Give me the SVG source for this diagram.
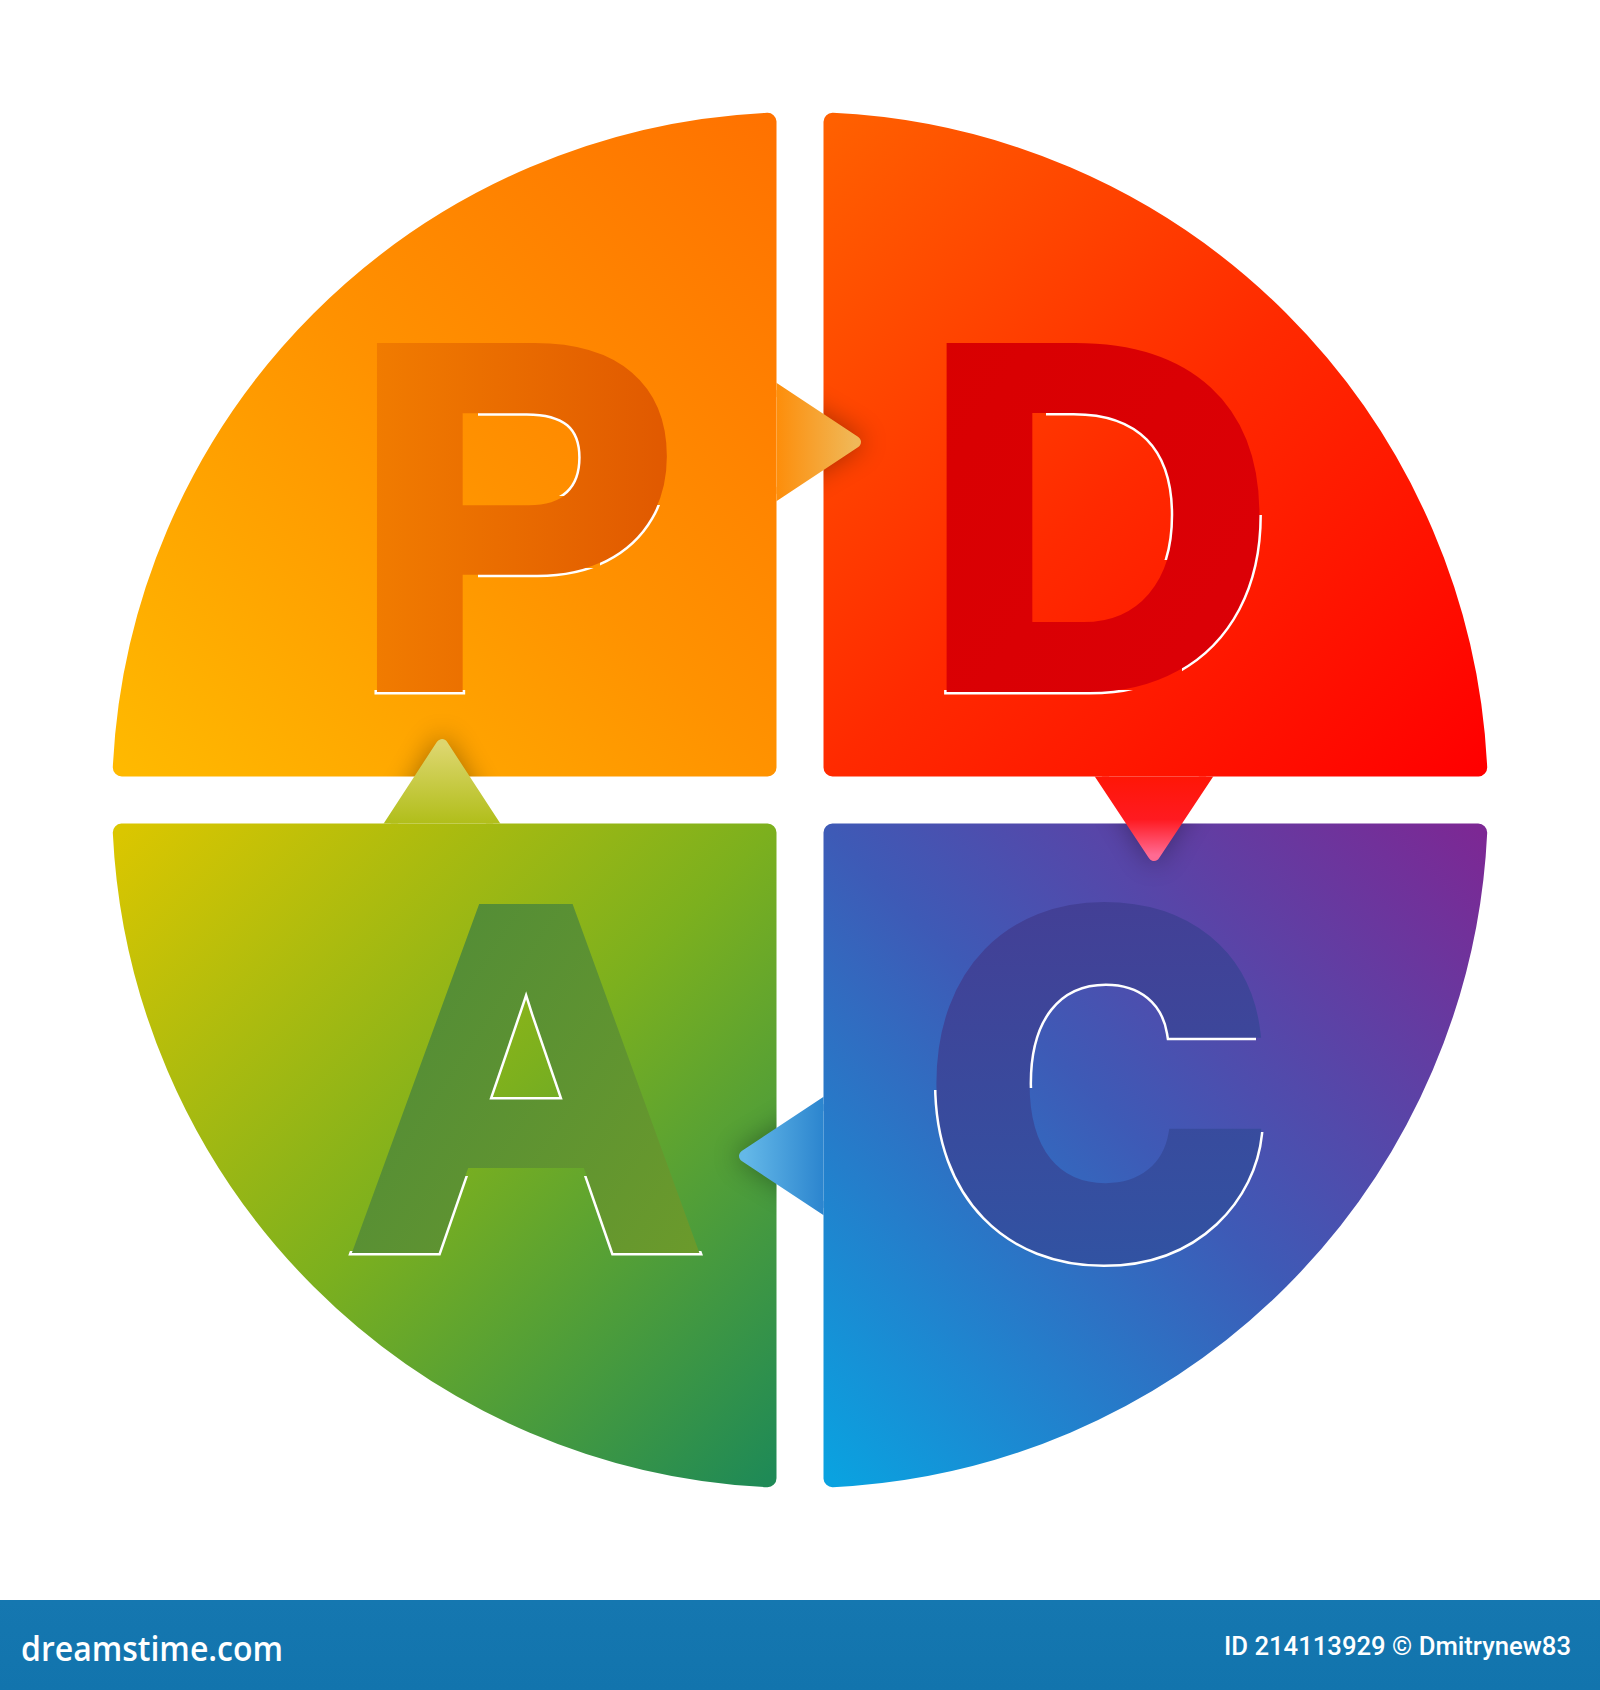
<svg xmlns="http://www.w3.org/2000/svg" width="1600" height="1690" viewBox="0 0 1600 1690">
<style>
.q{stroke-width:18;stroke-linejoin:round}
.let{font-family:"Liberation Sans",Arial,sans-serif;font-weight:700;font-size:484px;text-anchor:middle;stroke-width:16;stroke-linejoin:miter;paint-order:stroke}
.hl{font-family:"Liberation Sans",Arial,sans-serif;font-weight:700;font-size:484px;text-anchor:middle;fill:none;stroke:#fff;stroke-width:21;stroke-linejoin:miter}
.cf{font-family:Inter,"Liberation Sans",sans-serif;font-weight:800;font-size:472px;stroke-width:10}
.hl.cf{stroke-width:15}
.tab{stroke-width:12;stroke-linejoin:round}
.sh{fill:#000;opacity:.38;filter:url(#blur)}
</style>
<defs>
<linearGradient id="gTL" x1="0" y1="1" x2="1" y2="0"><stop offset="0" stop-color="#ffb900"/><stop offset=".5" stop-color="#ff9200"/><stop offset="1" stop-color="#ff7200"/></linearGradient>
<linearGradient id="gTR" x1="0" y1="0" x2="1" y2="1"><stop offset="0" stop-color="#ff6000"/><stop offset=".5" stop-color="#ff2a00"/><stop offset="1" stop-color="#ff0000"/></linearGradient>
<linearGradient id="gBR" x1="0" y1="1" x2="1" y2="0"><stop offset="0" stop-color="#0aa2e0"/><stop offset=".5" stop-color="#3e5ab6"/><stop offset="1" stop-color="#7c2894"/></linearGradient>
<linearGradient id="gBL" x1="0" y1="0" x2="1" y2="1"><stop offset="0" stop-color="#dac600"/><stop offset=".5" stop-color="#7cb01e"/><stop offset="1" stop-color="#1f8a56"/></linearGradient>
<linearGradient id="lP" x1="0" y1="0" x2="1" y2="0"><stop offset="0" stop-color="#f27e00"/><stop offset="1" stop-color="#e05800"/></linearGradient>
<linearGradient id="lD" x1="0" y1="0" x2="1" y2="1"><stop offset="0" stop-color="#d80000"/><stop offset="1" stop-color="#dc0008"/></linearGradient>
<linearGradient id="lA" x1="0" y1="0" x2="1" y2="1"><stop offset="0" stop-color="#4b883a"/><stop offset="1" stop-color="#6e9c2a"/></linearGradient>
<linearGradient id="lC" x1="0" y1="0" x2="0" y2="1"><stop offset="0" stop-color="#483a92"/><stop offset="1" stop-color="#2c58a6"/></linearGradient>
<linearGradient id="tTL" x1="0" y1="0" x2="1" y2="0"><stop offset="0" stop-color="#ff8800"/><stop offset="1" stop-color="#f0b858"/></linearGradient>
<linearGradient id="tTR" x1="0" y1="0" x2="0" y2="1"><stop offset="0" stop-color="#ff1500"/><stop offset=".6" stop-color="#ff1a20"/><stop offset="1" stop-color="#ff6a92"/></linearGradient>
<linearGradient id="tBR" x1="1" y1="0" x2="0" y2="0"><stop offset="0" stop-color="#247ecb"/><stop offset="1" stop-color="#64b8e8"/></linearGradient>
<linearGradient id="tBL" x1="0" y1="1" x2="0" y2="0"><stop offset="0" stop-color="#abbb0f"/><stop offset="1" stop-color="#ddd66e"/></linearGradient>
<linearGradient id="bar" x1="0" y1="0" x2="0" y2="1"><stop offset="0" stop-color="#1577b0"/><stop offset="1" stop-color="#1274ad"/></linearGradient>
<filter id="blur" x="-50%" y="-50%" width="200%" height="200%"><feGaussianBlur stdDeviation="14"/></filter>
<clipPath id="cTL"><rect x="0" y="0" width="776.5" height="776.5"/></clipPath>
<clipPath id="cTR"><rect x="823.5" y="0" width="776.5" height="776.5"/></clipPath>
<clipPath id="cBR"><rect x="823.5" y="823.5" width="776.5" height="776.5"/></clipPath>
<clipPath id="cBL"><rect x="0" y="823.5" width="776.5" height="776.5"/></clipPath>
<clipPath id="kPD"><rect x="776.5" y="300" width="150" height="300"/></clipPath>
<clipPath id="kDC"><rect x="1000" y="776.5" width="300" height="150"/></clipPath>
<clipPath id="kCA"><rect x="673.5" y="1000" width="150" height="300"/></clipPath>
<clipPath id="kAP"><rect x="300" y="673.5" width="300" height="150"/></clipPath>
<mask id="mP" maskUnits="userSpaceOnUse" x="0" y="0" width="1600" height="1690">
<rect x="360" y="690" width="112" height="16" fill="#fff"/>
<rect x="478" y="400" width="122" height="96" fill="#fff"/>
<rect x="478" y="568" width="225" height="34" fill="#fff"/>
<rect x="600" y="505" width="103" height="97" fill="#fff"/>
</mask>
<mask id="mD" maskUnits="userSpaceOnUse" x="0" y="0" width="1600" height="1690">
<rect x="1046" y="405" width="152" height="155" fill="#fff"/>
<rect x="928" y="690" width="362" height="16" fill="#fff"/>
<rect x="1182" y="515" width="108" height="191" fill="#fff"/>
</mask>
<mask id="mA" maskUnits="userSpaceOnUse" x="0" y="0" width="1600" height="1690">
<rect x="334" y="1251" width="386" height="16" fill="#fff"/>
<rect x="392" y="1176" width="268" height="78" fill="#fff"/>
<rect x="474" y="985" width="102" height="145" fill="#fff"/>
</mask>
<mask id="mC" maskUnits="userSpaceOnUse" x="0" y="0" width="1600" height="1690">
<rect x="905" y="1090" width="371" height="195" fill="#fff"/>
<ellipse cx="1095" cy="1085" rx="88" ry="116" fill="#000"/>
<rect x="1140" y="1085" width="150" height="47" fill="#000"/>
<rect x="1000" y="955" width="178" height="133" fill="#fff"/>
<rect x="1160" y="1018" width="96" height="32" fill="#fff"/>
</mask>
</defs>

<rect width="1600" height="1690" fill="#fff"/>

<g id="nodes">
<g id="node-plan">
<path class="q" fill="url(#gTL)" stroke="url(#gTL)" d="M121.8 767.5 A679 679 0 0 1 767.5 121.8 L767.5 767.5 Z"/>
<text class="hl" x="514" y="684" mask="url(#mP)">P</text>
<text class="let" x="514" y="684" fill="url(#lP)" stroke="url(#lP)">P</text>
</g>
<g id="node-do">
<path class="q" fill="url(#gTR)" stroke="url(#gTR)" d="M832.5 121.8 A679 679 0 0 1 1478.2 767.5 L832.5 767.5 Z"/>
<text class="hl" x="1097" y="684" mask="url(#mD)">D</text>
<text class="let" x="1097" y="684" fill="url(#lD)" stroke="url(#lD)">D</text>
</g>
<g id="node-check">
<path class="q" fill="url(#gBR)" stroke="url(#gBR)" d="M1478.2 832.5 A679 679 0 0 1 832.5 1478.2 L832.5 832.5 Z"/>
<text class="hl cf" x="1098" y="1255" mask="url(#mC)">C</text>
<text class="let cf" x="1098" y="1255" fill="url(#lC)" stroke="url(#lC)">C</text>
</g>
<g id="node-act">
<path class="q" fill="url(#gBL)" stroke="url(#gBL)" d="M767.5 1478.2 A679 679 0 0 1 121.8 832.5 L767.5 832.5 Z"/>
<text class="hl" x="526" y="1245" mask="url(#mA)">A</text>
<text class="let" x="526" y="1245" fill="url(#lA)" stroke="url(#lA)">A</text>
</g>
</g>

<g id="connectors">
<g clip-path="url(#cTR)"><path class="sh" d="M770 385 L866 442 L770 499 Z"/></g>
<g clip-path="url(#cBR)"><path class="sh" d="M1097 770 L1154 866 L1211 770 Z"/></g>
<g clip-path="url(#cBL)"><path class="sh" d="M830 1099 L734 1156 L830 1213 Z"/></g>
<g clip-path="url(#cTL)"><path class="sh" d="M386 830 L442 734 L498 830 Z"/></g>
<g clip-path="url(#kPD)"><path id="edge-p-d" class="tab" fill="url(#tTL)" stroke="url(#tTL)" d="M766 383 L855 442 L766 501 Z"/></g>
<g clip-path="url(#kDC)"><path id="edge-d-c" class="tab" fill="url(#tTR)" stroke="url(#tTR)" d="M1095 766 L1154 855 L1213 766 Z"/></g>
<g clip-path="url(#kCA)"><path id="edge-c-a" class="tab" fill="url(#tBR)" stroke="url(#tBR)" d="M834 1097 L745 1156 L834 1215 Z"/></g>
<g clip-path="url(#kAP)"><path id="edge-a-p" class="tab" fill="url(#tBL)" stroke="url(#tBL)" d="M384 834 L442 745 L500 834 Z"/></g>
</g>

<g id="footer">
<rect x="0" y="1600" width="1600" height="90" fill="url(#bar)"/>
<text x="21" y="1661" font-family="'Open Sans',Lato,sans-serif" font-size="35" font-weight="600" fill="#fff" textLength="262" lengthAdjust="spacingAndGlyphs">dreamstime.com</text>
<text x="1224" y="1655" font-family="Roboto,'Liberation Sans',sans-serif" font-size="26" font-weight="500" fill="#fff" textLength="347" lengthAdjust="spacingAndGlyphs">ID 214113929 © Dmitrynew83</text>
</g>
</svg>
